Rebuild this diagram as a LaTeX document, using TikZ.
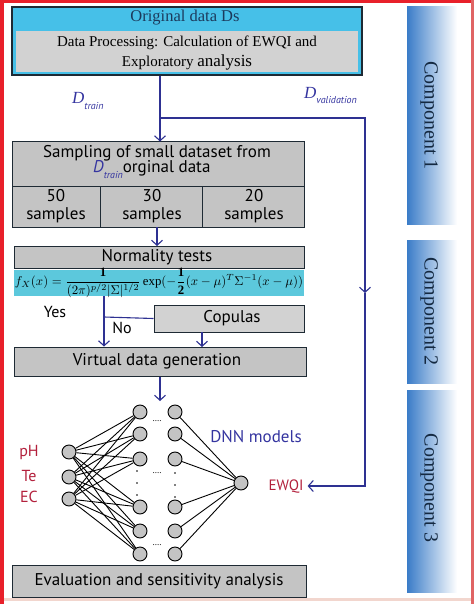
\documentclass[tikz,border=0pt]{standalone}
\usepackage{amsmath}
\usepackage{graphicx}
\usepackage{fontspec}
\setmainfont{Liberation Serif}
\newfontfamily\sfm{PT Sans}
\usetikzlibrary{arrows.meta}
\definecolor{navy}{HTML}{2E3192}
\definecolor{boxgray}{HTML}{C4C4C4}
\definecolor{lightgray}{HTML}{D2D2D2}
\definecolor{topcyan}{HTML}{46C0E8}
\definecolor{formcyan}{HTML}{5CC8DC}
\definecolor{darkline}{HTML}{1E2A34}
\definecolor{titleblue}{HTML}{1C3A5C}
\definecolor{labred}{HTML}{B3203C}
\definecolor{labblue}{HTML}{3535A0}
\definecolor{barblue}{HTML}{3A7CC8}
\definecolor{framered}{HTML}{E8202A}
\definecolor{framesalmon}{HTML}{E06464}
\definecolor{framepink}{HTML}{F2D6CE}
\begin{document}
\begin{tikzpicture}[x=1pt,y=-1pt,
  box/.style={draw=darkline,line width=1pt,fill=boxgray,inner sep=0pt},
  sftext/.style={font=\sfm\fontsize{17}{18.5}\selectfont,inner sep=0pt},
  labtext/.style={font=\sfm\fontsize{16}{18}\selectfont,inner sep=0pt},
  flow/.style={draw=navy,line width=1.1pt},
  tip/.style={-{Straight Barb[length=5pt,width=11pt,line width=1.1pt]}},
  neuron/.style={circle,draw=black,line width=0.9pt,fill=boxgray,minimum size=14pt,inner sep=0pt},
  edge/.style={draw=black,line width=0.9pt},
  compbar/.style={left color=barblue,right color=white,draw=none,inner sep=0pt},
  comptext/.style={font=\fontsize{20}{22}\selectfont,text=titleblue!70!black,rotate=-90,inner sep=0pt}
]
\useasboundingbox (0,0) rectangle (474,604);
\fill[white] (0,0) rectangle (474,604);
% frame
\fill[framered] (0,0) rectangle (474,3);
\fill[framered] (0,0) rectangle (4,604);
\fill[framesalmon] (471,0) rectangle (474,604);
\fill[framepink] (4,598) rectangle (471,601);

% component bars
\node[compbar,minimum width=50pt,minimum height=217pt] (c1) at (432,115.5) {};
\node[compbar,minimum width=50pt,minimum height=143pt] (c2) at (432,311.5) {};
\node[compbar,minimum width=50pt,minimum height=202pt] (c3) at (432,491) {};
\node[comptext] (c1t) at (429,115.5) {Component 1};
\node[comptext] (c2t) at (429,311.5) {Component 2};
\node[comptext] (c3t) at (429,488) {Component 3};

% top box
\node[draw=darkline,line width=1.2pt,fill=topcyan,minimum width=350pt,minimum height=68pt,inner sep=0pt] (top) at (187,41) {};
\node[fill=lightgray,minimum width=342pt,minimum height=41pt,inner sep=0pt] (topgray) at (186.5,51.5) {};
\node[font=\fontsize{16.5}{18}\selectfont,text=titleblue,inner sep=0pt] (t1) at (185,18) {Original data Ds};
\node[font=\fontsize{15}{17}\selectfont,inner sep=0pt] (t2) at (187,43) {Data Processing: Calculation of EWQI and};
\node[font=\fontsize{15}{17}\selectfont,inner sep=0pt] (t3) at (187,62) {Exploratory {\fontsize{17}{19}\selectfont analysis}};

% labels D
\node[text=labblue,inner sep=0pt,anchor=west] (dtr) at (72,101) {\fontsize{17}{19}\selectfont\textit{D}\raisebox{-6pt}{\sfm\itshape\fontsize{10}{12}\selectfont train}};
\node[text=labblue,inner sep=0pt,anchor=west] (dval) at (304,95) {\fontsize{17}{19}\selectfont\textit{D}\raisebox{-5pt}{\sfm\itshape\fontsize{10}{12}\selectfont validation}};

% sampling box
\node[box,minimum width=292pt,minimum height=85pt] (samp) at (158,184.5) {};
\draw[darkline,line width=1pt] (12,186) -- (304,186);
\draw[darkline,line width=1pt] (100,186) -- (100,227);
\draw[darkline,line width=1pt] (202,186) -- (202,227);
\node[sftext] (s1) at (157,153) {Sampling of small dataset from};
\node[sftext,anchor=west] (s2) at (93,170) {{\color{labblue}\fontsize{17}{19}\selectfont\textit{D}\raisebox{-6pt}{\sfm\itshape\fontsize{10}{12}\selectfont train}}orginal data};
\node[sftext,align=center] (n50) at (56,206) {50\\samples};
\node[sftext,align=center] (n30) at (152,206) {30\\samples};
\node[sftext,align=center] (n20) at (254,206) {20\\samples};

% normality
\node[box,minimum width=290pt,minimum height=22pt] (norm) at (159,257) {};
\node[sftext] (normt) at (157,257) {Normality tests};
\node[fill=formcyan,minimum width=290pt,minimum height=26pt,inner sep=0pt] (form) at (159,283) {};
\node[inner sep=0pt] (formt) at (159,283) {\resizebox{288pt}{!}{$f_X(x)=\dfrac{\mathbf{1}}{(2\pi)^{p/2}|\Sigma|^{1/2}}\exp(-\dfrac{\mathbf{1}}{\mathbf{2}}(x-\mu)^T\Sigma^{-1}(x-\mu))$}};

% copulas and virtual
\node[box,fill=lightgray,minimum width=150pt,minimum height=27pt] (cop) at (229,318.5) {};
\node[sftext] (copt) at (232,318) {Copulas};
\node[box,minimum width=292pt,minimum height=29pt] (virt) at (160,361.5) {};
\node[sftext] (virtt) at (157,361) {Virtual data generation};
\node[labtext] (yes) at (55,312) {Yes};
\node[labtext] (no) at (122,328) {No};

% evaluation
\node[box,minimum width=294pt,minimum height=32pt] (eval) at (159,581) {};
\node[sftext] (evalt) at (159,581) {Evaluation and sensitivity analysis};

% connectors
\coordinate (j1) at (160,118);
\coordinate (j2) at (365,118);
\coordinate (j3) at (365,293);
\coordinate (j4) at (365,486);
\coordinate (yesx) at (104,317);
\coordinate (nnin) at (160,401);
\draw[flow] (j1 |- top.south) -- (j1);
\draw[flow,tip] (j1) -- (j1 |- samp.north);
\draw[flow,tip] (j1) -- (j2) -- (j3);
\node[font=\sfm\fontsize{15}{17}\selectfont,text=labred,inner sep=0pt] (ewqi) at (286,487) {EWQI};
\draw[flow,tip,shorten >=4pt] (j3) -- (j4) -- (ewqi.east |- j4);
\draw[flow,tip] (157,227) -- (157,246);
\draw[flow,tip] (yesx |- form.south) -- (yesx |- virt.north);
\draw[flow] (cop.west) -- (yesx);
\draw[flow,tip] (202,332) -- (202,347);
\draw[flow,tip] (virt.south -| nnin) -- (nnin);

% neural net
\foreach \y [count=\i] in {452,477,499} \node[neuron] (i\i) at (69,\y) {};
\foreach \y [count=\i] in {412,434,459,507,531,554} {
  \node[neuron] (h\i) at (140,\y) {};
  \node[neuron] (g\i) at (175,\y) {};
}
\node[neuron] (o) at (241,483) {};
\foreach \a in {1,2,3} \foreach \b in {1,...,6} \draw[edge] (i\a) -- (h\b);
\foreach \b in {1,...,6} \draw[edge] (g\b) -- (o);
\foreach \y in {423,475,547} \node[font=\fontsize{9}{9}\selectfont,inner sep=0pt] at (157,\y-2) {....};
\foreach \y in {471,483,495} \fill (137,\y) circle (0.8pt);
\foreach \y in {473,485,497} \fill (175,\y) circle (0.8pt);
\node[labtext,text=labred] (ph) at (29,452) {pH};
\node[labtext,text=labred] (te) at (29,476) {Te};
\node[labtext,text=labred] (ec) at (29,497) {EC};
\node[font=\sfm\fontsize{17}{19}\selectfont,text=labblue,inner sep=0pt] (dnn) at (256,437) {DNN models};
\end{tikzpicture}
\end{document}
